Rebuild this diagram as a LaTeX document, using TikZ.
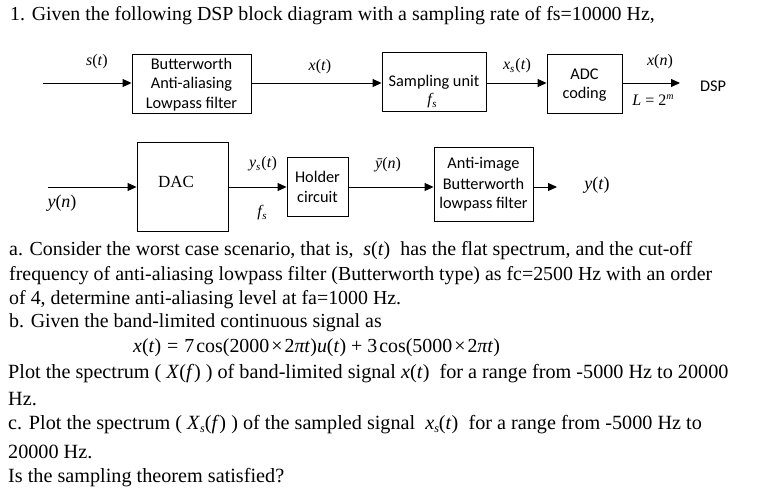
\documentclass[tikz,border=0pt]{standalone}
\usepackage{fontspec}
\setmainfont{Liberation Serif}
\newfontfamily\calib{Carlito}
\usetikzlibrary{arrows.meta}
\tikzset{
  blk/.style={draw, line width=0.9pt, inner sep=0pt},
  sig/.style={line width=0.9pt, -{Triangle[length=9pt,width=8pt]}},
  boxtxt/.style={font=\calib\fontsize{16.3}{20}\selectfont, align=center, inner sep=0pt},
  lbl/.style={font=\fontsize{16}{18}\selectfont, inner sep=0pt},
  para/.style={font=\fontsize{19.9}{22}\selectfont, anchor=base west, inner sep=0pt},
}
\begin{document}
\begin{tikzpicture}[x=1pt,y=-1pt]
\useasboundingbox (0,0) rectangle (764,492);
% title
\node[para] (title) at (10,21) {1. Given the following DSP block diagram with a sampling rate of fs=10000 Hz,};
% row 1
\coordinate (in1) at (43,83);
\node[blk, minimum width=119pt, minimum height=59pt] (bw) at (191.5,83.5) {};
\node[boxtxt] at (191.5,64) {Butterworth};
\node[boxtxt] at (191.5,84) {Anti-aliasing};
\node[boxtxt] at (191.5,104) {Lowpass filter};
\node[blk, minimum width=104pt, minimum height=59pt] (su) at (434,81.5) {};
\node[boxtxt] at (434,82) {Sampling unit};
\node[lbl] at (432,101) {\textit{f\kern0.5pt\raisebox{-3pt}{\fontsize{11}{12}\selectfont s}}};
\node[blk, minimum width=75pt, minimum height=59pt] (adc) at (584.5,83.5) {};
\node[boxtxt] at (584.5,74) {ADC};
\node[boxtxt] at (584.5,94) {coding};
\coordinate (out1) at (680,83);
\draw[sig] (in1) -- (bw.west |- in1);
\draw[sig] (bw.east |- in1) -- (su.west |- in1);
\draw[sig] (su.east |- in1) -- (adc.west |- in1);
\draw[sig] (adc.east |- in1) -- (out1);
\node[lbl] at (97,62) {\textit{s}(\textit{t})};
\node[lbl] at (320,67) {\textit{x}(\textit{t})};
\node[lbl] at (517,66) {\textit{x}\raisebox{-3pt}{\fontsize{11}{12}\selectfont\textit{s}}\kern1pt(\textit{t})};
\node[lbl] at (660,62) {\textit{x}(\textit{n})};
\node[lbl] at (653,100) {\textit{L} = 2\raisebox{6pt}{\fontsize{10}{12}\selectfont\textit{m}}};
\node[boxtxt] at (713,86) {DSP};
% row 2
\coordinate (in2) at (48,187);
\node[blk, minimum width=91pt, minimum height=89pt] (dac) at (182.5,186.5) {};
\node[lbl, font=\fontsize{17}{18}\selectfont] at (176,182) {DAC};
\node[blk, minimum width=61pt, minimum height=59pt] (hold) at (317.5,186.5) {};
\node[boxtxt] at (317.5,177) {Holder};
\node[boxtxt] at (317.5,197) {circuit};
\node[blk, minimum width=99pt, minimum height=74pt] (ai) at (483.5,184) {};
\node[boxtxt] at (483.5,164) {Anti-image};
\node[boxtxt] at (483.5,184) {Butterworth};
\node[boxtxt] at (483.5,204) {lowpass filter};
\coordinate (out2) at (557,187);
\draw[sig] (in2) -- (dac.west |- in2);
\draw[sig] (dac.east |- in2) -- (hold.west |- in2);
\draw[sig] (hold.east |- in2) -- (ai.west |- in2);
\draw[sig] (ai.east |- in2) -- (out2);
\node[lbl, font=\fontsize{18}{20}\selectfont] at (62,203) {\textit{y}(\textit{n})};
\node[lbl] at (263,164) {\textit{y}\raisebox{-3pt}{\fontsize{11}{12}\selectfont\textit{s}}\kern1pt(\textit{t})};
\node[lbl] at (262,213) {\textit{f\kern0.5pt\raisebox{-3pt}{\fontsize{11}{12}\selectfont s}}};
\node[lbl] at (388,165) {\textit{\=y}(\textit{n})};
\node[lbl, font=\fontsize{18}{20}\selectfont] at (597,185) {\textit{y}(\textit{t})};
% paragraphs
\node[para] (la) at (9,255) {a. Consider the worst case scenario, that is, \ \textit{s}(\textit{t}) \ has the flat spectrum, and the cut-off};
\node[para] (lb) at (9,280) {frequency of anti-aliasing lowpass filter (Butterworth type) as fc=2500 Hz with an order};
\node[para] (lc) at (9,304) {of 4, determine anti-aliasing level at fa=1000 Hz.};
\node[para] (ld) at (9,327) {b. Given the band-limited continuous signal as};
\node[para] (le) at (133,352) {\textit{x}(\textit{t})\kern6pt=\kern6pt7\kern2pt cos(2000\kern2pt×\kern2pt2\textit{πt})\textit{u}(\textit{t})\kern5pt+\kern5pt3\kern2pt cos(5000\kern2pt×\kern2pt2\textit{πt})};
\node[para, font=\fontsize{20.2}{22}\selectfont] (lf) at (8,378) {Plot the spectrum ( \textit{X}(\textit{f}) ) of band-limited signal \textit{x}(\textit{t}) \ for a range from -5000 Hz to 20000};
\node[para, font=\fontsize{20.2}{22}\selectfont] (lg) at (8,405) {Hz.};
\node[para, font=\fontsize{20.2}{22}\selectfont] (lh) at (8,429) {c. Plot the spectrum ( \textit{X}\raisebox{-3pt}{\fontsize{12}{12}\selectfont\textit{s}}(\textit{f}) ) of the sampled signal \ \textit{x}\raisebox{-3pt}{\fontsize{12}{12}\selectfont\textit{s}}(\textit{t}) \ for a range from -5000 Hz to};
\node[para, font=\fontsize{20.2}{22}\selectfont] (li) at (8,458) {20000 Hz.};
\node[para, font=\fontsize{20.2}{22}\selectfont] (lj) at (8,482) {Is the sampling theorem satisfied?};
\end{tikzpicture}
\end{document}
